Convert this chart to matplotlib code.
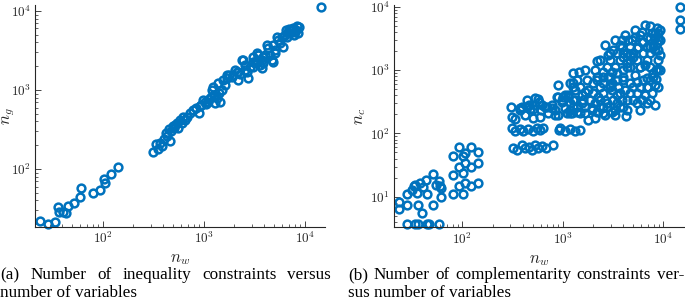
import numpy as np
import matplotlib
matplotlib.use("Agg")
import matplotlib.pyplot as plt
from matplotlib.ticker import LogLocator, FuncFormatter, NullFormatter

# (a) inequality constraints n_g vs number of variables n_w
ineq_small = [(23.8, 22.2), (28.8, 20.1), (33.5, 21.5), (36.1, 32.7), (37.0, 28.8),
              (40.6, 28.8), (43.8, 27.5), (45.5, 34.0), (51.8, 36.8), (59.4, 43.9),
              (60.8, 57.0), (79.6, 50.1), (94, 54.2), (103, 74.1), (105.4, 67.1),
              (121, 86.5), (143, 107)]
ineq_lower = [(315, 164), (337, 207), (387, 195), (405, 240), (464, 226), (424, 286),
              (453, 321), (497, 350), (544, 382), (582, 417), (624, 455), (557, 330),
              (610, 382), (684, 455), (784, 558), (897, 512), (918, 627), (940, 646),
              (1030, 705), (1104, 705), (1180, 815), (1208, 1000), (1236, 1091),
              (1355, 792), (1294, 684), (1387, 1227), (1517, 1000), (1552, 1339),
              (1702, 1419), (1782, 1549), (1910, 1462), (2138, 1690), (2188, 1339),
              (2748, 1419), (1449, 705), (353, 179), (369, 213), (433, 262), (475, 303),
              (508, 330), (520, 361), (653, 417), (731, 512), (839, 592), (984, 747),
              (1054, 665), (1127, 770), (1265, 865), (1419, 916), (1626, 1156),
              (1702, 1549), (1950, 1549), (2042, 1791), (2188, 1690)]
ineq_upper = [(2449, 2399), (2685, 1690), (3076, 1954), (3373, 2399), (3451, 2773),
              (3776, 1897), (3864, 2198), (4236, 3715), (4529, 2773), (4853, 2260),
              (5082, 3206), (5321, 4688), (5689, 3936), (6095, 3501), (6531, 5742),
              (6683, 4688), (7145, 5272), (7656, 6095), (8017, 5420), (8395, 6457),
              (8590, 5272), (5957, 4688), (4853, 3715), (5082, 2938), (4742, 2399),
              (4046, 2773), (3776, 2399), (3373, 2938), (3606, 2070), (3076, 2260),
              (3076, 2617), (2871, 1954), (2393, 2399), (2564, 1791), (2564, 2070),
              (2286, 1595), (3221, 2198), (3864, 2617), (4335, 3404), (5445, 4295),
              (6383, 4966), (6998, 5919), (7482, 5742), (8790, 6266), (6839, 5420),
              (7834, 4966), (8204, 5742), (14520, 11240)]

# (b) complementarity constraints n_c vs n_w
comp_small = [(23.4, 8.25), (23.4, 6.4), (28.2, 7.4), (28.2, 3.7), (33.8, 3.7), (36.2, 3.7),
              (44.5, 3.7), (46.6, 3.7), (58.7, 3.7), (28.2, 11.0), (33.1, 14.8), (35.4, 11.4),
              (36.2, 7.4), (39.7, 5.5), (38.0, 16.5), (40.6, 14.2), (43.5, 18.4), (44.5, 11.0),
              (51.1, 22.8), (51.1, 7.4), (58.7, 17.7), (60.0, 14.8), (61.4, 13.7), (61.4, 9.9),
              (33.8, 15.3), (31.6, 12.8), (54.7, 15.3),
              (80.8, 44.0), (80.8, 22.0), (80.8, 11.0), (92.7, 61.0), (92.7, 29.4), (92.7, 14.8),
              (101.6, 44.0), (101.6, 23.7), (101.6, 11.0), (106.4, 49.0), (106.4, 34.0),
              (106.4, 16.5), (122, 61.0), (122, 29.4), (122, 14.8), (143, 50.8), (143, 34.0),
              (143, 16.5)]
comp_band60 = [(320, 58.8), (350, 54.7), (393, 65.6), (421, 58.8), (461, 61.0), (494, 54.7),
               (529, 65.6), (567, 58.8), (621, 63.2), (681, 58.8), (799, 65.6)]
comp_band110 = [(312, 122), (334, 109), (375, 117), (402, 109), (450, 117), (505, 109),
                (554, 122), (593, 113), (635, 122), (917, 113), (1052, 109), (1179, 117),
                (1323, 109), (1483, 113), (938, 122)]
comp_band250 = [(305, 261), (312, 182), (334, 169), (375, 234), (393, 261), (421, 195),
                (440, 337), (461, 281), (472, 243), (505, 243), (505, 175), (529, 363),
                (567, 349), (580, 313), (593, 182), (621, 281), (665, 261), (696, 261),
                (781, 281), (781, 252), (836, 234), (896, 195), (982, 313), (1052, 252),
                (1179, 210), (1263, 261), (1384, 218), (1552, 302), (1663, 210), (1781, 163),
                (1952, 252), (2189, 218), (2345, 337), (2512, 261), (2754, 302), (3088, 218),
                (3307, 195), (3463, 302), (3710, 261), (4256, 188), (5475, 302), (6884, 302),
                (375, 252), (440, 261), (529, 281), (607, 234), (712, 210), (876, 376),
                (982, 337), (1127, 405), (1179, 302), (1235, 210), (836, 195)]
comp_upper = [(896, 582), (896, 376), (1005, 376), (1179, 625), (1263, 900), (1449, 934),
              (2189, 1393), (2818, 1733), (3883, 2317), (1263, 541),
              (1263, 625), (1323, 485), (1384, 698), (1483, 541), (1552, 405), (1589, 337),
              (1741, 698), (1781, 485), (1865, 337), (1952, 234), (1663, 261), (1483, 210),
              (1384, 261), (1263, 337), (1179, 234), (1101, 210), (1127, 376), (1998, 625),
              (2189, 778), (2345, 541), (2512, 435), (2630, 337), (2754, 261), (2950, 541),
              (2818, 778), (2754, 1120), (2950, 1445), (3088, 934), (3307, 1120), (3463, 698),
              (3543, 541), (3710, 435), (3883, 337), (3972, 261), (4355, 337), (4665, 435),
              (4995, 541), (5475, 435), (5865, 541), (6281, 698), (6884, 541), (7374, 698),
              (7898, 900), (3972, 778), (4355, 1120), (4665, 1445), (4995, 1862), (5475, 1445),
              (5865, 1120), (6281, 1862), (6884, 2317), (7374, 1862), (7898, 2317), (8656, 2679),
              (8857, 3855), (9272, 2986), (5602, 2317), (4665, 2317), (4355, 1862), (3710, 1445),
              (3463, 1862), (3159, 2077), (3883, 2986), (4456, 2986), (5230, 3334), (6140, 3998),
              (6884, 3334), (7719, 3855), (8268, 3215), (9272, 4298), (6281, 2778), (3972, 1862),
              (3088, 625), (2512, 778), (2240, 376), (2091, 302), (2345, 261), (3159, 337),
              (3307, 234), (2512, 210), (1998, 435), (3463, 405), (4995, 337), (6140, 337),
              (7719, 435), (8857, 541)]
comp_blob = [(2630, 2495), (3307, 2986), (4159, 3589), (5230, 4298), (6577, 5164),
             (5865, 3589), (4665, 1733), (6577, 1205), (3088, 485), (4159, 485),
             (5230, 837), (6577, 405), (8268, 281), (5865, 234), (4355, 234), (2630, 195),
             (2091, 175), (1663, 451), (1323, 337), (1052, 405), (1663, 1004), (2091, 1004),
             (2345, 1445), (3710, 2495), (7374, 3215), (8268, 2077), (7374, 337),
             (9272, 1004), (9272, 1733)]
comp_top = [(7374, 4977), (8656, 4624), (8268, 3855), (4883, 2986), (6140, 2778), (5475, 2234),
            (2950, 1862), (3972, 1611), (7374, 2317), (8857, 2986), (8857, 2077), (8857, 1445),
            (8857, 1041), (7898, 778), (6884, 750), (5475, 649), (4665, 625), (3972, 698),
            (3463, 900), (2950, 778), (2512, 934), (2189, 698), (2512, 625), (5865, 1120),
            (6884, 1445), (4665, 1120), (3972, 1004), (4995, 1611), (4355, 1295), (7374, 1120),
            (8268, 582), (7044, 541), (3543, 541), (2950, 582), (8460, 723), (8460, 1004),
            (14660, 9930), (14660, 6180), (14660, 4459)]

caption_a = ["(a) Number of inequality constraints versus", "number of variables"]
caption_b = ["(b) Number of complementarity constraints ver-", "sus number of variables"]

plt.rcParams['mathtext.fontset'] = 'cm'
plt.rcParams['font.family'] = 'DejaVu Serif'

blue = '#0072BD'
grey = '#262626'
W, H = 685, 301

fig = plt.figure(figsize=(W / 100, H / 100), dpi=100)


def px_axes(x0, y0, x1, y1):
    # axes box given in pixel coords measured from the top-left corner
    return fig.add_axes([x0 / W, 1 - y1 / H, (x1 - x0) / W, (y1 - y0) / H])


def style(ax, xlim, ylim):
    ax.set_xscale('log')
    ax.set_yscale('log')
    ax.set_xlim(xlim)
    ax.set_ylim(ylim)
    for s in ['top', 'right']:
        ax.spines[s].set_visible(False)
    for s in ['left', 'bottom']:
        ax.spines[s].set_color(grey)
        ax.spines[s].set_linewidth(0.8)
    fmt = FuncFormatter(lambda v, p: r'$10^{%d}$' % round(np.log10(v)))
    for axis in [ax.xaxis, ax.yaxis]:
        axis.set_major_locator(LogLocator(base=10, numticks=12))
        axis.set_minor_locator(LogLocator(base=10, subs=np.arange(2, 10), numticks=12))
        axis.set_major_formatter(fmt)
        axis.set_minor_formatter(NullFormatter())
    ax.tick_params(which='both', direction='in', colors=grey, labelsize=9.5, pad=3)
    ax.tick_params(which='major', length=4, width=0.6)
    ax.tick_params(which='minor', length=2, width=0.5)


def scatter(ax, groups):
    for g in groups:
        x, y = np.array(g).T
        ax.plot(x, y, 'o', ms=5.6, mfc='none', mec=blue, mew=1.8, clip_on=False)


# left panel
ax1 = px_axes(35, 5, 325, 226.7)
scatter(ax1, [ineq_small, ineq_lower, ineq_upper])
style(ax1, (21.4, 15900), (18.6, 11900))
ax1.set_xlabel(r'$n_w$', fontsize=12, color=grey)
ax1.set_ylabel(r'$n_g$', fontsize=12, color=grey)
ax1.xaxis.set_label_coords(0.5, -0.105)
ax1.yaxis.set_label_coords(-0.062, 0.5)

# right panel
ax2 = px_axes(394, 5, 685, 227.3)
scatter(ax2, [comp_small, comp_band60, comp_band110, comp_band250, comp_upper, comp_blob,
              comp_top])
style(ax2, (20.9, 16440), (3.29, 10670))
ax2.set_xlabel(r'$n_w$', fontsize=12, color=grey)
ax2.set_ylabel(r'$n_c$', fontsize=12, color=grey)
ax2.xaxis.set_label_coords(0.5, -0.105)
ax2.yaxis.set_label_coords(-0.09, 0.5)


# captions, first line justified like the paper
def caption_line(text, x0, y, x1=None):
    words = text.split()
    cap_kw = dict(fontsize=12.3, family='Liberation Serif', va='baseline', color='black')
    if x1 is None:
        fig.text(x0 / W, 1 - y / H, text, **cap_kw)
        return
    ts = [fig.text(0, 1 - y / H, w, **cap_kw) for w in words]
    r = fig.canvas.get_renderer()
    widths = [t.get_window_extent(r).width for t in ts]
    gap = (x1 - x0 - sum(widths)) / (len(words) - 1)
    x = x0
    for t, w in zip(ts, widths):
        t.set_x(x / W)
        x += w + gap


caption_line(caption_a[0], 0, 279, 331)
caption_line(caption_a[1], 0, 297)
caption_line(caption_b[0], 348, 279, 684)
caption_line(caption_b[1], 348, 297)

fig.savefig('out.png', dpi=100)
